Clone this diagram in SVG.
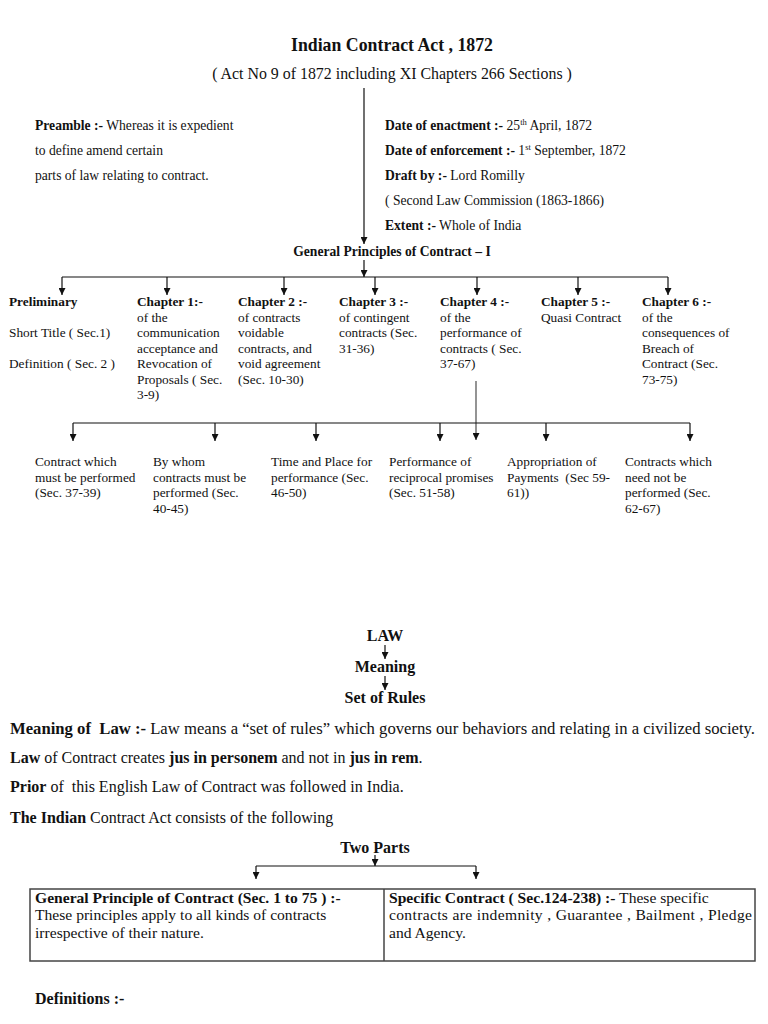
<svg xmlns="http://www.w3.org/2000/svg" width="768" height="1024" viewBox="0 0 768 1024">
<defs>
<style>
text{font-family:"Liberation Serif","Times New Roman",serif;fill:#111}
.t{font-size:17.8px;font-weight:bold}
.s{font-size:15.9px}
.m{font-size:13.6px}
.c{font-size:13.3px}
.l{font-size:16px}
.tb{font-size:15.6px}
.b{font-weight:bold}
.sup{font-size:8.5px}
.ln{stroke:#111;stroke-width:1.2;fill:none}
.gr{stroke:#666;stroke-width:1.4;fill:none}
.box{stroke:#444;stroke-width:1.5;fill:none}
</style>
<marker id="ah" viewBox="0 0 8 8" refX="8" refY="4" markerWidth="7" markerHeight="7" markerUnits="userSpaceOnUse" orient="auto">
<path d="M0,0 L8,4 L0,8 z" fill="#111"/>
</marker>
</defs>
<rect width="768" height="1024" fill="#fff"/>

<g id="title">
<text class="t" x="392" y="51" text-anchor="middle">Indian Contract Act , 1872</text>
<text class="s" x="392" y="79" text-anchor="middle">( Act No 9 of 1872 including XI Chapters 266 Sections )</text>
</g>

<g id="preamble">
<text class="m" x="35" y="130"><tspan class="b">Preamble :-</tspan> Whereas it is expedient</text>
<text class="m" x="35" y="155">to define amend certain</text>
<text class="m" x="35" y="180">parts of law relating to contract.</text>
</g>

<g id="facts">
<text class="m" x="385" y="130"><tspan class="b">Date of enactment :-</tspan> 25<tspan class="sup" dy="-5">th</tspan><tspan dy="5"> April, 1872</tspan></text>
<text class="m" x="385" y="155"><tspan class="b">Date of enforcement :-</tspan> 1<tspan class="sup" dy="-5">st</tspan><tspan dy="5"> September, 1872</tspan></text>
<text class="m" x="385" y="180"><tspan class="b">Draft by :-</tspan> Lord Romilly</text>
<text class="m" x="385" y="205">( Second Law Commission (1863-1866)</text>
<text class="m" x="385" y="230"><tspan class="b">Extent :-</tspan> Whole of India</text>
</g>

<g id="general-principles">
<text class="m b" x="392" y="256" text-anchor="middle">General Principles of Contract – I</text>
</g>

<g id="connectors">
<line class="ln" x1="364" y1="88" x2="364" y2="244" marker-end="url(#ah)"/>
<line class="ln" x1="364" y1="260" x2="364" y2="277" marker-end="url(#ah)"/>
<line class="ln" x1="62" y1="277" x2="668" y2="277"/>
<line class="ln" x1="62" y1="277" x2="62" y2="295" marker-end="url(#ah)"/>
<line class="ln" x1="167" y1="277" x2="167" y2="295" marker-end="url(#ah)"/>
<line class="ln" x1="284" y1="277" x2="284" y2="295" marker-end="url(#ah)"/>
<line class="ln" x1="375" y1="277" x2="375" y2="295" marker-end="url(#ah)"/>
<line class="ln" x1="477" y1="277" x2="477" y2="295" marker-end="url(#ah)"/>
<line class="ln" x1="578" y1="277" x2="578" y2="295" marker-end="url(#ah)"/>
<line class="ln" x1="668" y1="277" x2="668" y2="295" marker-end="url(#ah)"/>

<line class="gr" x1="476" y1="381" x2="476" y2="440" marker-end="url(#ah)"/>
<line class="ln" x1="73" y1="423" x2="690" y2="423"/>
<line class="ln" x1="73" y1="423" x2="73" y2="441" marker-end="url(#ah)"/>
<line class="ln" x1="215" y1="423" x2="215" y2="441" marker-end="url(#ah)"/>
<line class="ln" x1="316" y1="423" x2="316" y2="441" marker-end="url(#ah)"/>
<line class="ln" x1="440" y1="423" x2="440" y2="441" marker-end="url(#ah)"/>
<line class="ln" x1="546" y1="423" x2="546" y2="441" marker-end="url(#ah)"/>
<line class="ln" x1="690" y1="423" x2="690" y2="441" marker-end="url(#ah)"/>

<line class="ln" x1="385" y1="645" x2="385" y2="659" marker-end="url(#ah)"/>
<line class="ln" x1="385" y1="676" x2="385" y2="690" marker-end="url(#ah)"/>

<line class="ln" x1="375" y1="855" x2="375" y2="866" marker-end="url(#ah)"/>
<line class="ln" x1="256" y1="866" x2="476" y2="866"/>
<line class="ln" x1="256" y1="866" x2="256" y2="879" marker-end="url(#ah)"/>
<line class="ln" x1="476" y1="866" x2="476" y2="879" marker-end="url(#ah)"/>
</g>

<g id="preliminary">
<text class="c b" x="9" y="306">Preliminary</text>
<text class="c" x="9" y="337">Short Title ( Sec.1)</text>
<text class="c" x="9" y="368">Definition ( Sec. 2 )</text>
</g>
<g id="chapter1">
<text class="c b" x="137" y="306">Chapter 1:-</text>
<text class="c" x="137" y="322">of the</text>
<text class="c" x="137" y="337">communication</text>
<text class="c" x="137" y="353">acceptance and</text>
<text class="c" x="137" y="368">Revocation of</text>
<text class="c" x="137" y="384">Proposals ( Sec.</text>
<text class="c" x="137" y="399">3-9)</text>
</g>
<g id="chapter2">
<text class="c b" x="238" y="306">Chapter 2 :-</text>
<text class="c" x="238" y="322">of contracts</text>
<text class="c" x="238" y="337">voidable</text>
<text class="c" x="238" y="353">contracts, and</text>
<text class="c" x="238" y="368">void agreement</text>
<text class="c" x="238" y="384">(Sec. 10-30)</text>
</g>
<g id="chapter3">
<text class="c b" x="339" y="306">Chapter 3 :-</text>
<text class="c" x="339" y="322">of contingent</text>
<text class="c" x="339" y="337">contracts (Sec.</text>
<text class="c" x="339" y="353">31-36)</text>
</g>
<g id="chapter4">
<text class="c b" x="440" y="306">Chapter 4 :-</text>
<text class="c" x="440" y="322">of the</text>
<text class="c" x="440" y="337">performance of</text>
<text class="c" x="440" y="353">contracts ( Sec.</text>
<text class="c" x="440" y="368">37-67)</text>
</g>
<g id="chapter5">
<text class="c b" x="541" y="306">Chapter 5 :-</text>
<text class="c" x="541" y="322">Quasi Contract</text>
</g>
<g id="chapter6">
<text class="c b" x="642" y="306">Chapter 6 :-</text>
<text class="c" x="642" y="322">of the</text>
<text class="c" x="642" y="337">consequences of</text>
<text class="c" x="642" y="353">Breach of</text>
<text class="c" x="642" y="368">Contract (Sec.</text>
<text class="c" x="642" y="384">73-75)</text>
</g>

<g id="perf1">
<text class="c" x="35" y="466">Contract which</text>
<text class="c" x="35" y="482">must be performed</text>
<text class="c" x="35" y="497">(Sec. 37-39)</text>
</g>
<g id="perf2">
<text class="c" x="153" y="466">By whom</text>
<text class="c" x="153" y="482">contracts must be</text>
<text class="c" x="153" y="497">performed (Sec.</text>
<text class="c" x="153" y="513">40-45)</text>
</g>
<g id="perf3">
<text class="c" x="271" y="466">Time and Place for</text>
<text class="c" x="271" y="482">performance (Sec.</text>
<text class="c" x="271" y="497">46-50)</text>
</g>
<g id="perf4">
<text class="c" x="389" y="466">Performance of</text>
<text class="c" x="389" y="482">reciprocal promises</text>
<text class="c" x="389" y="497">(Sec. 51-58)</text>
</g>
<g id="perf5">
<text class="c" x="507" y="466">Appropriation of</text>
<text class="c" x="507" y="482" xml:space="preserve">Payments  (Sec 59-</text>
<text class="c" x="507" y="497">61))</text>
</g>
<g id="perf6">
<text class="c" x="625" y="466">Contracts which</text>
<text class="c" x="625" y="482">need not be</text>
<text class="c" x="625" y="497">performed (Sec.</text>
<text class="c" x="625" y="513">62-67)</text>
</g>

<g id="law">
<text class="l b" x="385" y="641" text-anchor="middle">LAW</text>
</g>
<g id="meaning">
<text class="l b" x="385" y="672" text-anchor="middle">Meaning</text>
</g>
<g id="set-of-rules">
<text class="l b" x="385" y="703" text-anchor="middle">Set of Rules</text>
</g>

<g id="paragraphs">
<text class="l" x="10" y="734" textLength="745" lengthAdjust="spacingAndGlyphs" xml:space="preserve"><tspan class="b">Meaning of  Law :-</tspan> Law means a “set of rules” which governs our behaviors and relating in a civilized society.</text>
<text class="l" x="10" y="763"><tspan class="b">Law</tspan> of Contract creates <tspan class="b">jus in personem</tspan> and not in <tspan class="b">jus in rem</tspan>.</text>
<text class="l" x="10" y="792" xml:space="preserve"><tspan class="b">Prior</tspan> of  this English Law of Contract was followed in India.</text>
<text class="l" x="10" y="823"><tspan class="b">The Indian</tspan> Contract Act consists of the following</text>
</g>

<g id="two-parts">
<text class="l b" x="375" y="853" text-anchor="middle">Two Parts</text>
</g>

<g id="table">
<rect class="box" x="30" y="889" width="725" height="72"/>
<line class="box" x1="384" y1="889" x2="384" y2="961"/>
</g>
<g id="general-part">
<text class="tb b" x="35" y="903">General Principle of Contract (Sec. 1 to 75 ) :-</text>
<text class="tb" x="35" y="920">These principles apply to all kinds of contracts</text>
<text class="tb" x="35" y="938">irrespective of their nature.</text>
</g>
<g id="specific-part">
<text class="tb" x="389" y="903"><tspan class="b">Specific Contract ( Sec.124-238) :-</tspan> These specific</text>
<text class="tb" x="389" y="920" textLength="363" lengthAdjust="spacing">contracts are indemnity , Guarantee , Bailment , Pledge</text>
<text class="tb" x="389" y="938">and Agency.</text>
</g>

<g id="definitions">
<text class="l b" x="35" y="1004">Definitions :-</text>
</g>
</svg>
